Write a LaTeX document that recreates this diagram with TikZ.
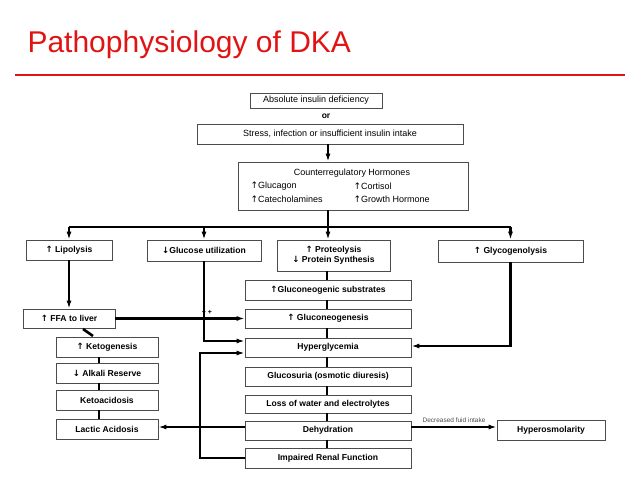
\documentclass[tikz,border=0pt]{standalone}
\usepackage{fontspec}
\setmainfont{Liberation Sans}
\newfontfamily\arrfont{DejaVu Sans}
\newcommand{\upa}{{\arrfont\char"2191}}
\newcommand{\dna}{{\arrfont\char"2193}}
\usetikzlibrary{arrows.meta}
\definecolor{dkared}{RGB}{225,20,20}
\tikzset{
  bx/.style={draw=black!70, line width=0.7pt, inner sep=0pt, font=\fontsize{8.6}{10}\selectfont\bfseries, align=center},
  nbx/.style={draw=black!70, line width=0.7pt, inner sep=0pt, font=\fontsize{9}{10.5}\selectfont, align=center},
  ln/.style={line width=2.6pt},
  ar/.style={line width=2.6pt, -{Latex[length=8pt,width=5pt]}},
}
\begin{document}
\begin{tikzpicture}[x=1pt,y=-1pt]
\useasboundingbox (0,0) rectangle (638,479);
\node[anchor=west, text=dkared, font=\fontsize{30}{32}\selectfont] (title) at (24,45) {Pathophysiology of DKA};
\draw[dkared, line width=1.2pt] (15,75) -- (625,75);
\newcommand{\bxn}[6]{\node[#1, minimum width=#4-#2, minimum height=#5-#3] (#6) at ({(#2+#4)/2},{(#3+#5)/2})}
\bxn{nbx}{250}{93}{382}{108}{b1} {Absolute insulin deficiency};
\node[font=\fontsize{8.5}{9}\selectfont\bfseries] (or) at (326,116) {or};
\bxn{nbx}{197}{124}{463}{144}{b2} {Stress, infection or insufficient insulin intake};
\bxn{nbx}{238}{162}{468}{210}{b3} {};
\node[font=\fontsize{9}{10.5}\selectfont] (h0) at (352,173) {Counterregulatory Hormones};
\node[font=\fontsize{9}{10.5}\selectfont, anchor=west] (h1) at (247,186) {\upa Glucagon};
\node[font=\fontsize{9}{10.5}\selectfont, anchor=west] (h2) at (247,199) {\upa Catecholamines};
\node[font=\fontsize{9}{10.5}\selectfont, anchor=west] (h3) at (350,186) {\upa Cortisol};
\node[font=\fontsize{9}{10.5}\selectfont, anchor=west] (h4) at (350,199) {\upa Growth Hormone};
\bxn{bx}{26}{240}{112}{260}{lip} {\upa\ Lipolysis};
\bxn{bx}{147}{240}{261}{261}{glu} {\dna Glucose utilization};
\bxn{bx}{277}{240}{390}{271}{pro} {\upa\ Proteolysis\\\dna\ Protein Synthesis};
\bxn{bx}{438}{240}{583}{262}{gly} {\upa\ Glycogenolysis};
\bxn{bx}{245}{280}{411}{300}{c1} {\upa Gluconeogenic substrates};
\bxn{bx}{245}{309}{411}{328}{c2} {\upa\ Gluconeogenesis};
\bxn{bx}{245}{338}{411}{357}{c3} {Hyperglycemia};
\bxn{bx}{245}{367}{411}{386}{c4} {Glucosuria (osmotic diuresis)};
\bxn{bx}{245}{395}{411}{413}{c5} {Loss of water and electrolytes};
\bxn{bx}{245}{421}{411}{440}{c6} {Dehydration};
\bxn{bx}{245}{448}{411}{468}{c7} {Impaired Renal Function};
\bxn{bx}{23}{309}{115}{328}{ffa} {\upa\ FFA to liver};
\bxn{bx}{56}{337}{158}{357}{k1} {\upa\ Ketogenesis};
\bxn{bx}{56}{363}{158}{383}{k2} {\dna\ Alkali Reserve};
\bxn{bx}{56}{390}{158}{410}{k3} {Ketoacidosis};
\bxn{bx}{56}{419}{158}{439}{k4} {Lactic Acidosis};
\bxn{bx}{497}{420}{605}{440}{hyp} {Hyperosmolarity};
% top connectors
\draw[ar] (b2.south -| 328,0) -- (b3.north -| 328,0);
\coordinate (j) at (328,227);
\draw[ln] (b3.south -| j) -- (j);
\draw[ln] (lip.north |- j) -- (gly.north |- j);
\draw[ar] (lip.north |- j) -- (lip.north);
\draw[ar] (glu.north |- j) -- (glu.north);
\draw[ar] (j) -- (pro.north -| j);
\draw[ar] (gly.north |- j) -- (gly.north);
% left
\draw[ar] (lip.south) -- (lip.south |- ffa.north);
\draw[ar] (ffa.east) -- (c2.west);
\node[font=\fontsize{7}{8}\selectfont\bfseries] (pp) at (207,312) {+ +};
\draw[ln] (83,329) -- (93,336);
\draw[ar] (glu.south) -- (glu.south |- 0,341) -- (c3.west |- 0,341);
\draw[ar] (c7.west) -- (200,458) -- (200,353) -- (c3.west |- 0,353);
\draw[ar] (gly.south) -- (gly.south |- 0,346) -- (c3.east |- 0,346);
% chains
\foreach \a/\b in {pro/c1,c1/c2,c2/c3,c3/c4,c4/c5,c5/c6,c6/c7}{\draw[ln] (\a.south -| 327,0) -- (\b.north -| 327,0);}
\foreach \a/\b in {k1/k2,k2/k3,k3/k4}{\draw[ln] (\a.south -| 99,0) -- (\b.north -| 99,0);}
\draw[ar] (c6.west |- 0,427) -- (k4.east |- 0,427);
\draw[ar] (c6.east |- 0,427) -- (hyp.west |- 0,427)
  node[midway, above=0pt, font=\fontsize{6.5}{7}\selectfont, text=black!70] (dfi) {Decreased fuid intake};
\end{tikzpicture}
\end{document}
